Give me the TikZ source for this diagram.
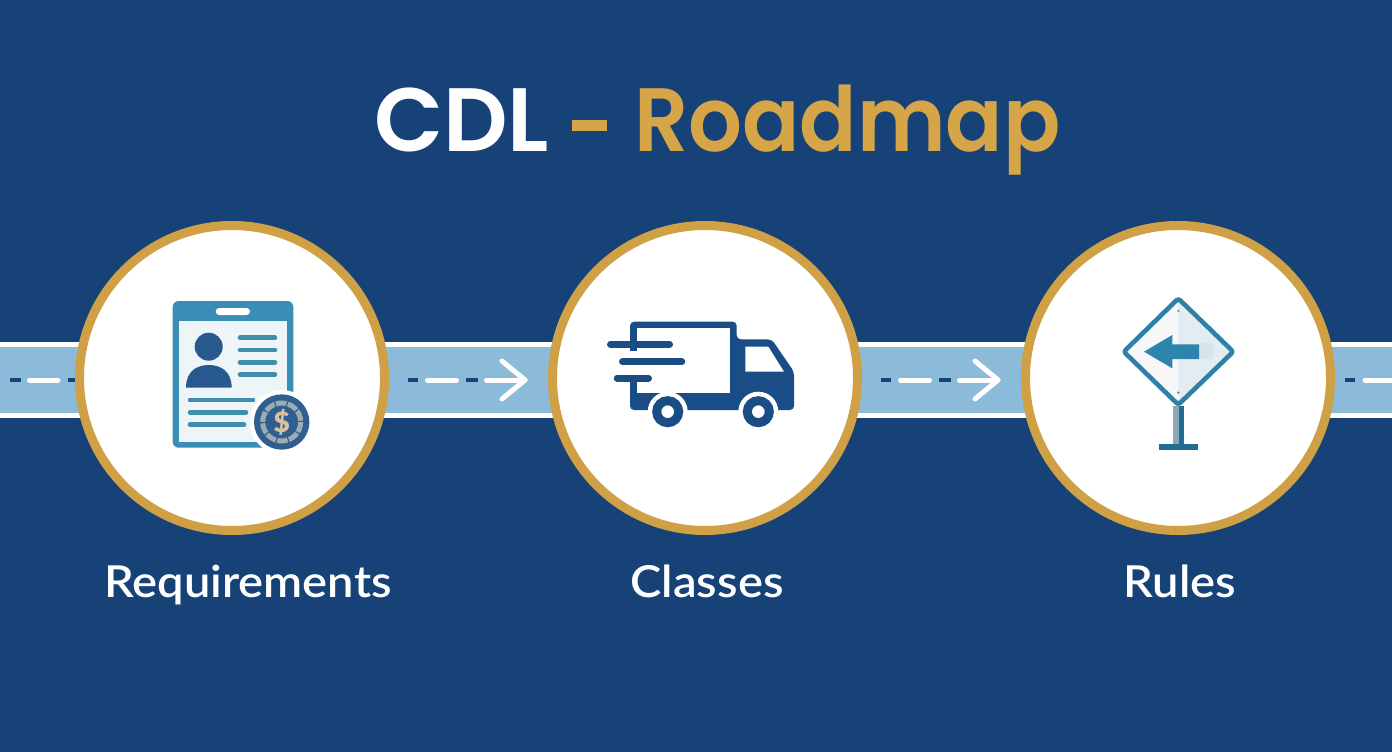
\documentclass[tikz,border=0pt]{standalone}
\usepackage{fontspec}
\usetikzlibrary{arrows.meta,shapes.geometric}
\newfontfamily\ttl{Poppins SemiBold}
\newfontfamily\ttlw{Poppins SemiBold}[FakeStretch=0.94]
\newfontfamily\lbl{Lato Semibold}[FakeStretch=1.07]
\newfontfamily\coinfont{Lato Black}
\definecolor{bg}{HTML}{164278}
\definecolor{gold}{HTML}{CFA045}
\definecolor{goldt}{HTML}{D6A548}
\definecolor{road}{HTML}{8CBBDA}
\definecolor{navy}{HTML}{1A4D85}
\definecolor{teal}{HTML}{3A8DB5}
\definecolor{tealb}{HTML}{3E8FAE}
\definecolor{panel}{HTML}{EEF5F9}
\definecolor{coin}{HTML}{2F5F90}
\definecolor{coinring}{HTML}{9FABB0}
\definecolor{cointxt}{HTML}{D9C0A2}
\definecolor{person}{HTML}{27598F}
\definecolor{sign}{HTML}{2D84AE}
\definecolor{signedge}{HTML}{2F80A5}
\definecolor{signhalf}{HTML}{E3ECF0}
\definecolor{signbox}{HTML}{D4E5EC}
\definecolor{bolt}{HTML}{6E8A96}
\definecolor{postl}{HTML}{8BA7B1}
\definecolor{postd}{HTML}{206F93}
\tikzset{
  x=1pt,y=-1pt,
  stop/.style={circle,draw=gold,fill=white,line width=9pt,minimum size=305pt,inner sep=0pt},
  darkdash/.style={draw=bg,line width=4.5pt},
  whitedash/.style={draw=white,line width=5pt,line cap=round},
  cardline/.style={draw=tealb,line width=4.6pt,line cap=round},
  speed/.style={draw=navy,line width=7pt,line cap=round},
  wheel/.style={circle,draw=navy,fill=white,line width=9pt,minimum size=22pt,inner sep=0pt},
  wheelgap/.style={circle,fill=white,minimum size=40pt,inner sep=0pt},
  titletext/.style={anchor=base west,inner sep=0pt},
  labeltext/.style={font=\lbl\fontsize{44}{44}\selectfont,text=white,anchor=base,inner sep=0pt},
}
\begin{document}
\begin{tikzpicture}
\useasboundingbox (0,0) rectangle (1392,752);
\fill[bg] (0,0) rectangle (1392,752);
% road
\fill[road] (0,342) rectangle (1392,418);
\fill[white] (0,342.3) rectangle (1392,346.7);
\fill[white] (0,413.3) rectangle (1392,418.3);
% dashes, left edge
\coordinate (a1) at (10,380); \coordinate (a2) at (20.7,380);
\coordinate (b1) at (29.5,380); \coordinate (b2) at (58,380);
\coordinate (c1) at (68,380); \coordinate (c2) at (78,380);
\draw[darkdash] (a1)--(a2); \draw[whitedash] (b1)--(b2); \draw[darkdash] (c1)--(c2);
% first arrow
\coordinate (d1) at (407.7,380); \coordinate (d2) at (418.3,380);
\coordinate (e1) at (427.5,380); \coordinate (e2) at (456.5,380);
\coordinate (f1) at (466,380); \coordinate (f2) at (477.7,380);
\coordinate (g1) at (486.5,380); \coordinate (g2) at (525,380);
\coordinate (g3) at (502,361); \coordinate (g4) at (502,399);
\draw[darkdash] (d1)--(d2); \draw[whitedash] (e1)--(e2); \draw[darkdash] (f1)--(f2);
\draw[whitedash] (g1)--(g2);
\draw[whitedash,line join=round] (g3)--(g2)--(g4);
% second arrow
\coordinate (h1) at (880.7,380); \coordinate (h2) at (891,380);
\coordinate (i1) at (900.5,380); \coordinate (i2) at (929.5,380);
\coordinate (j1) at (939,380); \coordinate (j2) at (950.7,380);
\coordinate (k1) at (959.5,380); \coordinate (k2) at (998,380);
\coordinate (k3) at (975,361); \coordinate (k4) at (975,399);
\draw[darkdash] (h1)--(h2); \draw[whitedash] (i1)--(i2); \draw[darkdash] (j1)--(j2);
\draw[whitedash] (k1)--(k2);
\draw[whitedash,line join=round] (k3)--(k2)--(k4);
% dashes, right edge
\coordinate (l1) at (1345,380); \coordinate (l2) at (1355,380);
\coordinate (m1) at (1365,380); \coordinate (m2) at (1396,380);
\draw[darkdash] (l1)--(l2); \draw[whitedash] (m1)--(m2);
% stops
\node[stop] (s1) at (232,378) {};
\node[stop] (s2) at (705,378) {};
\node[stop] (s3) at (1178,378) {};
% title
\node[titletext,font=\ttl\fontsize{90}{90}\selectfont,text=white] (t1) at (374,151.5) {CDL};
\fill[goldt] (572,120) rectangle (607,131);
\node[titletext,font=\ttlw\fontsize{90}{90}\selectfont,text=goldt] (t2) at (634,151.5) {Roadmap};
% labels
\node[labeltext] (n1) at (248,597) {Requirements};
\node[labeltext] (n2) at (707,597) {Classes};
\node[labeltext] (n3) at (1180,597) {Rules};
% ID card
\fill[teal,rounded corners=6pt] (172.7,301) rectangle (293.3,447.7);
\fill[panel] (179,321) rectangle (286.7,441.7);
\fill[white,rounded corners=3.4pt] (215.7,308) rectangle (250,315);
\fill[person] (208.7,346.7) circle (14);
\fill[person] (186,387.7) .. controls (186,371) and (197,365) .. (208.8,365) .. controls (220.5,365) and (231.7,371) .. (231.7,387.7) -- cycle;
\foreach \y in {337.7,350,362.3,374.7} \draw[cardline] (240,\y) -- (275,\y);
\draw[cardline] (190,400) -- (253,400);
\draw[cardline] (190,412.3) -- (246,412.3);
\draw[cardline] (190,424.7) -- (244,424.7);
\fill[white] (281.7,422) circle (32);
\fill[coin] (281.7,422) circle (27.7);
\draw[draw=coinring,line width=5pt,dash pattern=on 10.5pt off 1.44pt] (281.7,422) circle (19);
\node[font=\coinfont\fontsize{28}{28}\selectfont,text=cointxt,inner sep=0pt] (dollar) at (281.7,422) {\$};
% truck
\fill[navy,rounded corners=4pt] (630,410) -- (630,321.7) -- (736.7,321.7) -- (736.7,339.3) -- (771.7,339.3) -- (794,371.7) -- (794,410) -- cycle;
\fill[white] (636.7,328.3) rectangle (730,393.3);
\fill[white] (745.3,346.7) -- (768.3,346.7) -- (784,371.7) -- (745.3,371.7) -- cycle;
\fill[white] (625,351) rectangle (636.7,380);
\fill[navy] (630,379) rectangle (636.7,394);
\draw[speed] (610.5,344.3) -- (669.5,344.3);
\draw[speed] (622.5,361.7) -- (681.8,361.7);
\draw[speed] (617.2,378) -- (648.5,378);
\node[wheelgap] (gap1) at (667.7,411.7) {};
\node[wheelgap] (gap2) at (758.3,411.7) {};
\node[wheel] (w1) at (667.7,411.7) {};
\node[wheel] (w2) at (758.3,411.7) {};
% road sign
\fill[black!3!white] (1178.3,297.3) -- (1122.7,351.7) -- (1178.3,405.7) -- cycle;
\fill[signhalf] (1178.3,297.3) -- (1234.3,351.7) -- (1178.3,405.7) -- cycle;
\fill[signbox] (1199,343) rectangle (1212.7,359);
\fill[sign] (1144,351.7) -- (1172.3,335) -- (1172.3,344.3) -- (1199,344.3) -- (1199,359) -- (1172.3,359) -- (1172.3,368.3) -- cycle;
\draw[draw=signedge,line width=4.6pt,line join=round,rounded corners=2.5pt] (1178.3,298.5) -- (1233.2,351.7) -- (1178.3,404.7) -- (1123.8,351.7) -- cycle;
\fill[bolt] (1178.3,311) circle (1.3);
\fill[bolt] (1178.3,392.7) circle (1.3);
\fill[postl] (1173.3,406) rectangle (1179,445);
\fill[postd] (1179,406) rectangle (1184,445);
\fill[postd] (1159,444.3) rectangle (1198.3,449.8);
\end{tikzpicture}
\end{document}
